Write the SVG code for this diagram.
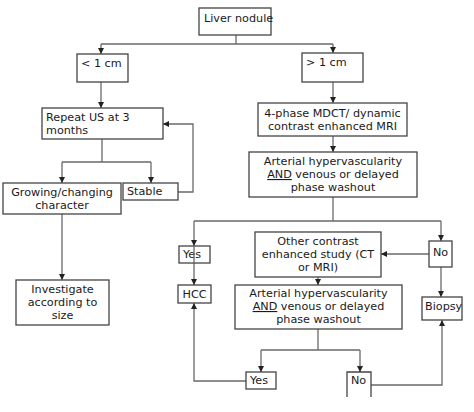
<svg xmlns="http://www.w3.org/2000/svg" width="474" height="412" viewBox="0 0 474 412">
<defs>
<style>
.box{fill:#fff;stroke:#444;stroke-width:1.3}
.open{fill:none;stroke:#444;stroke-width:1.3}
.c{fill:none;stroke:#6a6a6a;stroke-width:1.3}
text{font-family:"DejaVu Sans","Verdana",sans-serif;font-size:11.2px;fill:#1a1a1a}
.m{text-anchor:middle}
</style>
<marker id="ah" viewBox="0 0 8 8" refX="8" refY="4" markerWidth="6" markerHeight="6" markerUnits="userSpaceOnUse" orient="auto">
<path d="M0,0 L8,4 L0,8 z" fill="#222"/>
</marker>
</defs>
<rect width="474" height="412" fill="#fff"/>
<g id="connectors">
<path class="c" d="M236,35 V44 M101,44 H333"/>
<path class="c" d="M101,44 V54" marker-end="url(#ah)"/>
<path class="c" d="M333,44 V53" marker-end="url(#ah)"/>
<path class="c" d="M101,82 V108" marker-end="url(#ah)"/>
<path class="c" d="M333,82 V103" marker-end="url(#ah)"/>
<path class="c" d="M333,136 V152" marker-end="url(#ah)"/>
<path class="c" d="M102,139 V162 M62,162 H151"/>
<path class="c" d="M62,162 V183" marker-end="url(#ah)"/>
<path class="c" d="M151,162 V183" marker-end="url(#ah)"/>
<path class="c" d="M178,192 H193 V124 H163" marker-end="url(#ah)"/>
<path class="c" d="M62,214 V280" marker-end="url(#ah)"/>
<path class="c" d="M333,197 V221 M194,221 H441"/>
<path class="c" d="M194,221 V246" marker-end="url(#ah)"/>
<path class="c" d="M194,263 V285" marker-end="url(#ah)"/>
<path class="c" d="M441,221 V241" marker-end="url(#ah)"/>
<path class="c" d="M429,254 H381" marker-end="url(#ah)"/>
<path class="c" d="M441,267 V297" marker-end="url(#ah)"/>
<path class="c" d="M318,277 V285" marker-end="url(#ah)"/>
<path class="c" d="M318,329 V350 M261,350 H360"/>
<path class="c" d="M261,350 V372" marker-end="url(#ah)"/>
<path class="c" d="M360,350 V372" marker-end="url(#ah)"/>
<path class="c" d="M246,381 H194 V303" marker-end="url(#ah)"/>
<path class="c" d="M371,385 H442 V320" marker-end="url(#ah)"/>
</g>
<g id="liver"><rect class="box" x="199" y="8" width="72" height="27"/><text x="204" y="22">Liver nodule</text></g>
<g id="lt1"><rect class="box" x="77" y="54" width="51" height="28"/><text x="81" y="67">&lt; 1 cm</text></g>
<g id="gt1"><rect class="box" x="302" y="53" width="61" height="29"/><text x="306" y="66">&gt; 1 cm</text></g>
<g id="repeat"><rect class="box" x="42" y="108" width="121" height="31"/><text x="46" y="121">Repeat US at 3</text><text x="46" y="134">months</text></g>
<g id="mdct"><rect class="box" x="258" y="103" width="149" height="33"/><text class="m" x="332.5" y="117">4-phase MDCT/ dynamic</text><text class="m" x="332.5" y="130">contrast enhanced MRI</text></g>
<g id="art1"><rect class="box" x="249" y="152" width="168" height="45"/><text class="m" x="333" y="165">Arterial hypervascularity</text><text class="m" x="333" y="178"><tspan text-decoration="underline">AND</tspan> venous or delayed</text><text class="m" x="333" y="191">phase washout</text></g>
<g id="growing"><rect class="box" x="3" y="183" width="118" height="31"/><text class="m" x="62" y="196">Growing/changing</text><text class="m" x="62" y="209">character</text></g>
<g id="stable"><rect class="box" x="123" y="183" width="55" height="17"/><text x="127" y="195">Stable</text></g>
<g id="investigate"><rect class="box" x="16" y="280" width="93" height="45"/><text class="m" x="62.5" y="293">Investigate</text><text class="m" x="62.5" y="306">according to</text><text class="m" x="62.5" y="319">size</text></g>
<g id="yes1"><rect class="box" x="179" y="246" width="31" height="17" fill-opacity="0"/><text x="183" y="258">Yes</text><path class="c" d="M194,246 V263"/></g>
<g id="no1"><rect class="box" x="429" y="241" width="23" height="26"/><text class="m" x="440.5" y="256">No</text></g>
<g id="other"><rect class="box" x="255" y="232" width="126" height="45"/><text class="m" x="318" y="245">Other contrast</text><text class="m" x="318" y="258">enhanced study (CT</text><text class="m" x="318" y="271">or MRI)</text></g>
<g id="hcc"><rect class="box" x="178" y="285" width="33" height="18"/><text class="m" x="194.5" y="298">HCC</text></g>
<g id="art2"><rect class="box" x="235" y="285" width="167" height="44"/><text class="m" x="318.5" y="297">Arterial hypervascularity</text><text class="m" x="318.5" y="310"><tspan text-decoration="underline">AND</tspan> venous or delayed</text><text class="m" x="318.5" y="323">phase washout</text></g>
<g id="biopsy"><rect class="box" x="422" y="297" width="40" height="23"/><text x="425" y="310">Biopsy</text></g>
<g id="yes2"><rect class="box" x="246" y="372" width="30" height="17"/><text x="250" y="384">Yes</text></g>
<g id="no2"><path class="open" d="M347,397 V372 H371 V397"/><text x="351" y="384">No</text></g>
</svg>
